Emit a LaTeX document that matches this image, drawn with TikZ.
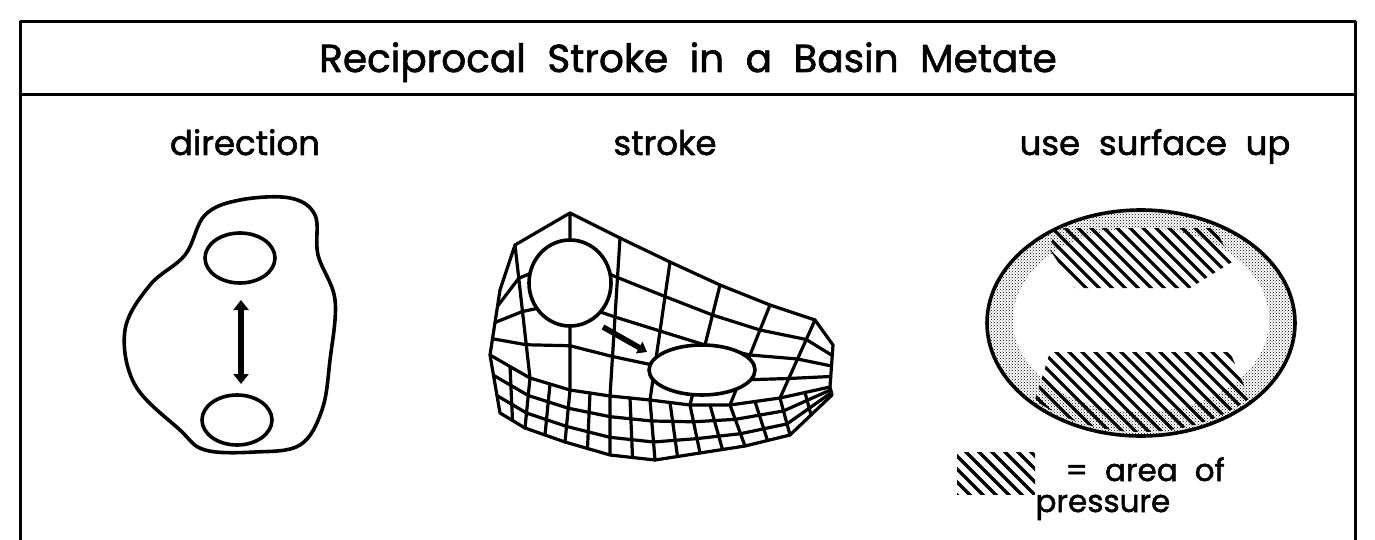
\documentclass[tikz,border=0pt]{standalone}
\usepackage{fontspec}
\setmainfont{Poppins}
\newfontfamily\hfont{Poppins}[FakeBold=1.6]
\usetikzlibrary{patterns,calc,arrows.meta}
\newcommand{\wsp}{\hspace{0.55em}}
\begin{document}
\begin{tikzpicture}[x=1pt,y=-1pt,line join=round,line cap=round,
  ln/.style={line width=3.6pt},
  mesh/.style={line width=3.2pt},
  hd/.style={font=\fontsize{34}{36}\hfont,anchor=base}]
\useasboundingbox (0,0) rectangle (1375,540);
\draw[line width=3pt,line cap=butt] (20,545) -- (20,22) -- (1355,22) -- (1355,545);
\draw[line width=3pt,line cap=butt] (20,95) -- (1355,95);
\node[font=\fontsize{39}{40}\hfont,anchor=base] (title) at (688,72) {Reciprocal\wsp Stroke\wsp in\wsp a\wsp Basin\wsp Metate};
\node[hd] (h1) at (245,155) {direction};
\node[hd] (h2) at (665,155) {stroke};
\node[hd] (h3) at (1155,155) {use\wsp surface\wsp up};
% left
\draw[ln] plot[smooth cycle,tension=0.6] coordinates {(205,215)(240,200)(290,198)(315,215)(318,255)(335,300)(330,360)(322,410)(300,445)(255,452)(205,450)(180,430)(135,385)(125,330)(150,285)(185,255)};
\draw[ln] (240,258) ellipse (35 and 25);
\draw[ln] (237,420) ellipse (35 and 25);
\draw[line width=5.5pt,line cap=butt,{Triangle[length=10pt,width=15pt]}-{Triangle[length=10pt,width=15pt]}] (241,300) -- (241,384);
% middle mesh
\foreach \i/\b/\f/\d in {0/{500,290}/{490,355}/{500,413},1/{515,245}/{530,378}/{525,428},2/{570,213}/{570,390}/{565,442},3/{620,238}/{610,396}/{610,455},4/{670,262}/{650,400}/{655,460},5/{720,285}/{690,405}/{700,453},6/{770,305}/{730,405}/{745,446},7/{815,320}/{780,398}/{790,435},8/{833,345}/{830,387}/{832,395}}{
  \coordinate (B\i) at (\b); \coordinate (F\i) at (\f); \coordinate (D\i) at (\d);}
\foreach \i in {0,...,8}{\draw[mesh] (B\i) -- (F\i) -- (D\i);}
\foreach \t in {0,0.25,0.5,0.75,1}{
  \draw[mesh] \foreach \i [count=\k from 0] in {0,...,8}{\ifnum\k=0 ($(B\i)!\t!(F\i)$)\else -- ($(B\i)!\t!(F\i)$)\fi};}
\foreach \t in {0.35,0.7,1}{
  \draw[mesh] \foreach \i [count=\k from 0] in {0,...,8}{\ifnum\k=0 ($(F\i)!\t!(D\i)$)\else -- ($(F\i)!\t!(D\i)$)\fi};}
\foreach \i [evaluate=\i as \j using int(\i+1)] in {0,...,7}{
  \draw[mesh] ($(F\i)!0.5!(F\j)$) -- ($(D\i)!0.5!(D\j)$);}
\draw[ln,fill=white] (570,283) ellipse (41 and 43);
\draw[ln,fill=white] (702,370) ellipse (53 and 25);
\draw[line width=5.5pt,line cap=butt,-{Triangle[length=9pt,width=13pt]}] (603,327) -- (647,352);
% right
\draw[line width=3.6pt,pattern=crosshatch dots] (1141,323) ellipse (154 and 113);
\fill[white] (1141,320) ellipse (128 and 92);
\begin{scope}
\clip (1055,228) -- (1215,228) -- (1232,262) -- (1190,288) -- (1075,288) -- (1050,250) -- cycle;
\foreach \s in {-200,-187,...,200}{\draw[line width=3.2pt] (1141+\s-60,200) -- (1141+\s+60,320);}
\end{scope}
\begin{scope}
\clip (1141,323) ellipse (150 and 109);
\clip (1050,352) -- (1230,352) -- (1250,400) -- (1200,440) -- (1060,440) -- (1035,400) -- cycle;
\foreach \s in {-200,-187,...,200}{\draw[line width=3.2pt] (1141+\s-60,320) -- (1141+\s+60,440);}
\end{scope}
\begin{scope}
\clip (957,452) rectangle (1035,494);
\foreach \s in {-100,-87,...,100}{\draw[line width=3.2pt] (996+\s-30,443) -- (996+\s+30,503);}
\end{scope}
\node[font=\fontsize{31}{34}\hfont,anchor=base west] (l1) at (1062,481) {=\wsp area\wsp of};
\node[font=\fontsize{31}{34}\hfont,anchor=base west] (l2) at (1032,512) {pressure};
\end{tikzpicture}
\end{document}
